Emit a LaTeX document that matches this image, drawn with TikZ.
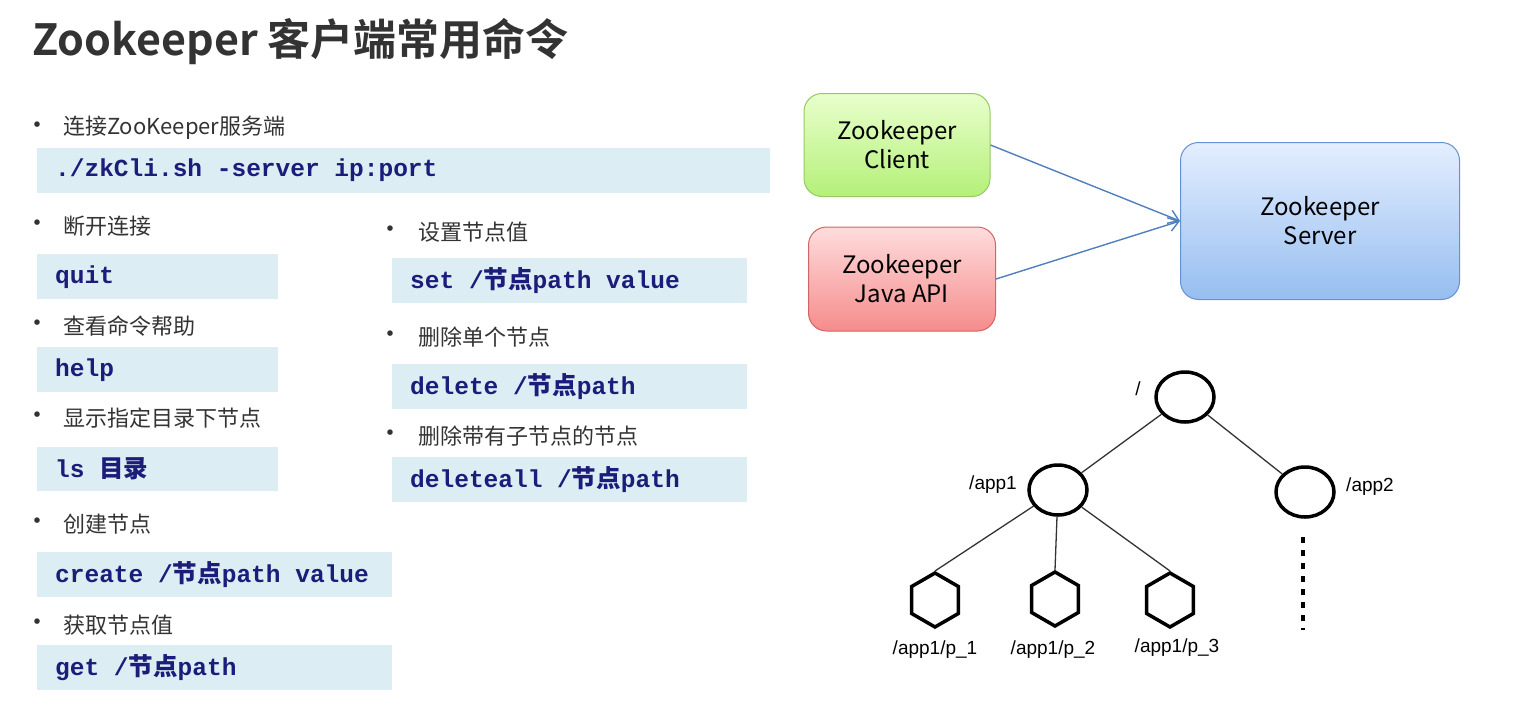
\documentclass[tikz,border=0pt]{standalone}
\usepackage{fontspec}
\setmainfont{Noto Sans CJK SC}
\newfontfamily\cjk{Noto Sans CJK SC}
\newfontfamily\cjkb{Noto Sans CJK SC Bold}
\newfontfamily\codef{Liberation Mono}
\newfontfamily\arialf{Liberation Sans}
\usetikzlibrary{shapes.geometric,arrows.meta}
\definecolor{codebg}{HTML}{DCEDF3}
\definecolor{codefg}{HTML}{1C1C7A}
\definecolor{txt}{HTML}{333333}
\definecolor{arr}{HTML}{4F7FBF}
\definecolor{gdraw}{RGB}{150,200,100}
\definecolor{gtop}{RGB}{232,255,205}
\definecolor{gbot}{RGB}{180,240,120}
\definecolor{rdraw}{RGB}{210,100,100}
\definecolor{rtop}{RGB}{255,220,220}
\definecolor{rbot}{RGB}{245,140,140}
\definecolor{bdraw}{RGB}{100,145,210}
\definecolor{btop}{RGB}{228,238,255}
\definecolor{bbot}{RGB}{150,190,240}
\begin{document}
\begin{tikzpicture}[x=1pt,y=-1pt,
  bul/.style={anchor=west,inner sep=0pt,text=txt,font=\fontsize{22}{24}\selectfont},
  dot/.style={anchor=center,inner sep=0pt,text=txt,font=\fontsize{26}{28}\selectfont},
  codebox/.style={fill=codebg,draw=none},
  code/.style={anchor=west,inner sep=0pt,text=codefg,font=\fontsize{24.5}{26}\codef\bfseries},
  fbox/.style={draw,rounded corners=18pt,line width=1pt,align=center,font=\fontsize{24}{29}\selectfont,text=black},
  tcirc/.style={draw,ellipse,line width=3.5pt,minimum width=58pt,minimum height=50pt,inner sep=0pt},
  hexa/.style={draw,regular polygon,regular polygon sides=6,shape border rotate=30,line width=3.5pt,minimum size=54pt,inner sep=0pt},
  tlab/.style={inner sep=0pt,font=\fontsize{19}{21}\arialf,text=black},
  tline/.style={line width=1.3pt,draw=black!80}]
\useasboundingbox (0,0) rectangle (1527,716);
\node[anchor=base west,inner sep=0pt,text=txt,font=\fontsize{43}{46}\cjkb] (title) at (32,55) {Zookeeper 客户端常用命令};
% left column
\node[dot] (d1) at (37,128) {•}; \node[bul] (b1) at (63,128) {连接ZooKeeper服务端};
\fill[codebox] (37,148) rectangle (770,193); \node[code] (c1) at (55,170) {./zkCli.sh -server ip:port};
\node[dot] (d2) at (37,226) {•}; \node[bul] (b2) at (63,226) {断开连接};
\fill[codebox] (37,254) rectangle (278,299); \node[code] (c2) at (55,277) {quit};
\node[dot] (d3) at (37,326) {•}; \node[bul] (b3) at (63,326) {查看命令帮助};
\fill[codebox] (37,347) rectangle (278,392); \node[code] (c3) at (55,370) {help};
\node[dot] (d4) at (37,418) {•}; \node[bul] (b4) at (63,418) {显示指定目录下节点};
\fill[codebox] (37,447) rectangle (278,491); \node[code] (c4) at (55,469) {ls {\cjkb 目录}};
\node[dot] (d5) at (37,524) {•}; \node[bul] (b5) at (63,524) {创建节点};
\fill[codebox] (37,552) rectangle (392,597); \node[code] (c5) at (55,575) {create /{\cjkb 节点}path value};
\node[dot] (d6) at (37,625) {•}; \node[bul] (b6) at (63,625) {获取节点值};
\fill[codebox] (37,645) rectangle (392,690); \node[code] (c6) at (55,668) {get /{\cjkb 节点}path};
% right column
\node[dot] (d7) at (390,232) {•}; \node[bul] (b7) at (418,232) {设置节点值};
\fill[codebox] (392,258) rectangle (747,303); \node[code] (c7) at (410,281) {set /{\cjkb 节点}path value};
\node[dot] (d8) at (390,337) {•}; \node[bul] (b8) at (418,337) {删除单个节点};
\fill[codebox] (392,364) rectangle (747,409); \node[code] (c8) at (410,387) {delete /{\cjkb 节点}path};
\node[dot] (d9) at (390,436) {•}; \node[bul] (b9) at (418,436) {删除带有子节点的节点};
\fill[codebox] (392,457) rectangle (747,502); \node[code] (c9) at (410,480) {deleteall /{\cjkb 节点}path};
% architecture boxes
\node[fbox,draw=gdraw,top color=gtop,bottom color=gbot,minimum width=186pt,minimum height=103pt] (cl) at (897,145) {Zookeeper\\Client};
\node[fbox,draw=rdraw,top color=rtop,bottom color=rbot,minimum width=187pt,minimum height=104pt] (ja) at (902,279) {Zookeeper\\Java API};
\node[fbox,draw=bdraw,top color=btop,bottom color=bbot,minimum width=279pt,minimum height=157pt] (sv) at (1320,221) {Zookeeper\\Server};
\coordinate (tip) at (sv.west);
\draw[arr,line width=1.4pt,-{Straight Barb[length=10pt,width=14pt]}] (cl.east) -- (tip);
\draw[arr,line width=1.4pt,-{Straight Barb[length=10pt,width=14pt]}] (ja.east) -- (tip);
% tree
\node[tcirc] (root) at (1185,397) {};
\node[tcirc] (a1) at (1058,490) {};
\node[tcirc] (a2) at (1305,492) {};
\node[hexa] (p1) at (935,600) {};
\node[hexa] (p2) at (1055,599) {};
\node[hexa] (p3) at (1170,600) {};
\node[tlab] (lr) at (1138,389) {/};
\node[tlab] (la1) at (993,485) {/app1};
\node[tlab] (la2) at (1370,487) {/app2};
\node[tlab] (lp1) at (935,650) {/app1/p\_1};
\node[tlab] (lp2) at (1053,650) {/app1/p\_2};
\node[tlab] (lp3) at (1177,648) {/app1/p\_3};
\draw[tline] (root) -- (a1);
\draw[tline] (root) -- (a2);
\draw[tline] (a1) -- (p1.north);
\draw[tline] (a1) -- (p2.north);
\draw[tline] (a1) -- (p3.north);
\coordinate (ds) at (1303,537);
\coordinate (de) at (1303,630);
\draw[line width=4pt,dash pattern=on 6pt off 7pt] (ds) -- (de);
\end{tikzpicture}
\end{document}
